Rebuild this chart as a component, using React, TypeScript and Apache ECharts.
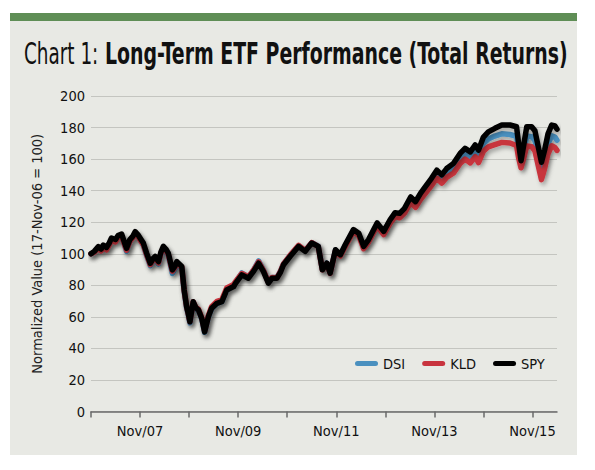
import React, { useEffect, useRef } from "react";
import * as echarts from "echarts";

// x positions: months since 17-Nov-06
const monthOffsets = [
  0, 0.8, 1.8, 2.5, 3, 3.8, 4.5, 5, 6, 6.6, 7.5, 8.2, 8.7, 9.5, 10.2, 10.8, 11.5, 12, 12.8, 13.6,
  14.5, 15.2, 15.7, 16.5, 17.1, 17.7, 18.3, 18.9, 19.9, 20.5, 21, 22.2, 22.8, 23.4, 23.8, 24.2,
  25, 25.6, 26.3, 27.1, 27.8, 28.7, 29.5, 30.8, 32, 33.2, 34.9, 35.3, 36.9, 38.5, 39.8, 41, 42.2,
  43.4, 44.3, 45.5, 46.3, 47.1, 48.7, 50.8, 52.4, 54, 55.6, 56.6, 57.7, 58.5, 59.8, 61, 62.2, 64.2,
  65.5, 66.7, 67.9, 70, 71.6, 73.2, 74.4, 75.5, 76.7, 78.2, 79.4, 80.6, 81.8, 83.3, 84.6, 85.8, 87,
  88.7, 90.3, 91.5, 92.8, 94, 94.8, 96, 97.2, 98.8, 100.5, 102.5, 104.1, 104.6, 105.2, 105.8, 106.6,
  107.8, 108.6, 109.4, 110.2, 111, 111.8, 112.7, 113.5, 114,
];

const spyValues = [
  100, 101.5, 104.5, 103, 105.5, 104, 107, 110, 109, 111.5, 112.5, 107, 103.5, 109, 111, 114, 112, 110, 106.8, 100.4,
  94, 97, 98.3, 95, 101, 104.7, 103, 100.4, 89.8, 92, 95, 92, 77, 66.4, 62, 56.9,
  69.6, 66, 64.3, 59, 50.5, 60, 65.4, 68.6, 69.6, 77, 79.2, 81, 86.6, 84.5, 89, 94, 88.7,
  81.3, 84.5, 84.5, 88, 93, 98.3, 104.7, 101.5, 106.8, 104.7, 89.8, 94, 87.7, 102.5, 99.4, 105.7, 115.3,
  113, 104.7, 109, 119.5, 114.2, 121.7, 126, 125.6, 128.8, 136, 133, 138.3, 142.5, 147.8, 153, 150, 154,
  157.3, 163.6, 166.8, 164.6, 169, 165.7, 174, 177.3, 179.5, 181.6, 181.6, 180.5, 170, 159, 168, 180.5,
  180.5, 178, 168, 158, 166, 176, 181.6, 181, 179,
];

const dsiValues = [
  100, 101, 103.8, 102, 104.5, 102.8, 106, 109, 108, 110.5, 111.2, 105.5, 101.5, 107.8, 110, 113, 111, 109, 105.5, 99,
  92.5, 95.8, 97, 93.5, 99.8, 103.5, 101.8, 99, 87.5, 90.2, 93.5, 90.8, 76, 65.5, 61.2, 56.2,
  68.8, 65.3, 63.8, 58.6, 50.2, 59.8, 65.2, 68.5, 69.6, 77.2, 79.6, 81.6, 87.8, 85.2, 89.8, 95.5, 89.5,
  81.8, 85, 85, 88.6, 93.6, 98.8, 105, 101.8, 107, 104.8, 90, 94, 87.6, 102.2, 99, 105.2, 114.6,
  112.2, 104, 108.2, 118.5, 113.2, 120.5, 124.8, 124.2, 127.2, 134.2, 131.2, 136.4, 140.4, 145.6, 150.6, 147.6, 151.4,
  154.6, 160.6, 163.6, 161.2, 165.4, 161.8, 169.8, 172.8, 174.6, 176, 175.6, 174.4, 165.5, 156, 163.8, 174.6,
  174.2, 171.8, 162.2, 152, 160, 169.6, 174.8, 174, 172,
];

const kldValues = [
  100, 101, 103.5, 101.8, 104.2, 102.5, 105.8, 108.8, 107.5, 110.2, 111, 105.8, 102.3, 107.8, 110, 112.8, 111, 108.8, 105.8, 99.5,
  93.2, 96.2, 97.5, 94.2, 100.2, 103.8, 102.2, 99.6, 89, 91.2, 94.3, 91.5, 76.8, 66.3, 62, 57,
  69.5, 66.2, 64.8, 59.5, 51, 60.8, 66.4, 69.8, 70.8, 78.3, 80.5, 82.2, 87.5, 85.3, 89.8, 94.8, 89.3,
  81.8, 85, 84.8, 88.6, 93.6, 99, 105.3, 102, 107, 104.5, 89.8, 93.8, 87.5, 101.8, 98.6, 104.6, 114,
  111.6, 103.2, 107.4, 117.6, 112.2, 119.4, 123.5, 122.8, 125.8, 132.6, 129.4, 134.4, 138.3, 143.2, 148, 144.8, 148.4,
  151.2, 157.2, 160, 157.6, 161.6, 157.8, 165, 167.8, 169.2, 170.6, 170.2, 168.6, 161, 154.5, 160, 168.4,
  167.8, 165.2, 156, 147, 154.4, 163.4, 168.4, 167.4, 165.5,
];

// yearly ticks (months since Nov/06) and their labels
const xTickValues = [0, 12, 24, 36, 48, 60, 72, 84, 96, 108];
const xTickLabels = ["", "Nov/07", "", "Nov/09", "", "Nov/11", "", "Nov/13", "", "Nov/15"];

const seriesNames = ["DSI", "KLD", "SPY"];
const seriesColors = ["#4a90bf", "#c8343e", "#000000"];

const FONT = "'DejaVu Sans Condensed', 'Liberation Sans', sans-serif";

export default function App() {
  const ref = useRef<HTMLDivElement>(null);

  useEffect(() => {
    document.body.style.margin = "0";
    const chart = echarts.init(ref.current!, undefined, { renderer: "svg" });
    const valueSets = [dsiValues, kldValues, spyValues];
    const iconPath =
      "path://M2.5,0H20.5A2.5,2.5,0,0,1,20.5,5H2.5A2.5,2.5,0,0,1,2.5,0Z";

    chart.setOption({
      animation: false,
      backgroundColor: "#ffffff",
      textStyle: { fontFamily: FONT },
      graphic: [
        { type: "rect", z: -10, shape: { x: 10, y: 21, width: 567, height: 434 }, style: { fill: "#e8e9e4" } },
        { type: "rect", z: -10, shape: { x: 10, y: 13, width: 567, height: 8 }, style: { fill: "#5f8e56" } },
        {
          type: "text",
          x: 24,
          y: 53,
          scaleX: 0.66,
          style: {
            text: "Chart 1:",
            x: 0,
            y: 0,
            fill: "#111111",
            font: `normal 31px ${FONT}`,
            textVerticalAlign: "middle",
          },
        },
        {
          type: "text",
          x: 105,
          y: 53,
          scaleX: 0.678,
          style: {
            text: "Long-Term ETF Performance (Total Returns)",
            x: 0,
            y: 0,
            fill: "#111111",
            font: `bold 31px ${FONT}`,
            textVerticalAlign: "middle",
          },
        },
      ],
      grid: { left: 91, top: 96, right: 38, bottom: 58.5, containLabel: false },
      legend: {
        data: seriesNames,
        left: 355,
        top: 356,
        padding: 0,
        itemWidth: 23,
        itemHeight: 5,
        itemGap: 17,
        icon: iconPath,
        textStyle: { fontSize: 14.5, color: "#111111", fontFamily: FONT },
      },
      xAxis: {
        type: "value",
        min: 0,
        max: 114,
        interval: 12,
        axisLine: { show: true, lineStyle: { color: "#6a6a6a", width: 1.5 } },
        axisTick: {
          show: true,
          length: 6,
          customValues: xTickValues,
          lineStyle: { color: "#6a6a6a", width: 1.5 },
        },
        splitLine: { show: false },
        axisLabel: {
          fontSize: 14.5,
          color: "#111111",
          margin: 12,
          fontFamily: FONT,
          customValues: xTickValues,
          formatter: (v: number) => xTickLabels[xTickValues.indexOf(v)] ?? "",
        },
      },
      yAxis: {
        type: "value",
        min: 0,
        max: 200,
        interval: 20,
        name: "Normalized Value (17-Nov-06 = 100)",
        nameLocation: "middle",
        nameGap: 47,
        nameTextStyle: { fontSize: 14.5, color: "#222222", fontFamily: FONT },
        axisLine: { show: false },
        axisTick: { show: false },
        splitLine: { lineStyle: { color: "#c4c5c0", width: 1 } },
        axisLabel: { fontSize: 14.5, color: "#111111", margin: 6, fontFamily: FONT },
      },
      series: seriesNames.map((name, i) => ({
        name,
        type: "line",
        showSymbol: false,
        symbol: "none",
        data: monthOffsets.map((m, j) => [m, valueSets[i][j]]),
        itemStyle: { color: seriesColors[i] },
        lineStyle: {
          color: seriesColors[i],
          width: 5.5,
          join: "round",
          cap: "round",
          shadowColor: "rgba(0,0,0,0.3)",
          shadowBlur: 4,
          shadowOffsetX: 2,
          shadowOffsetY: 3,
        },
        z: 2 + i,
      })),
    });
    return () => chart.dispose();
  }, []);

  return <div ref={ref} style={{ width: 595, height: 470 }} />;
}
